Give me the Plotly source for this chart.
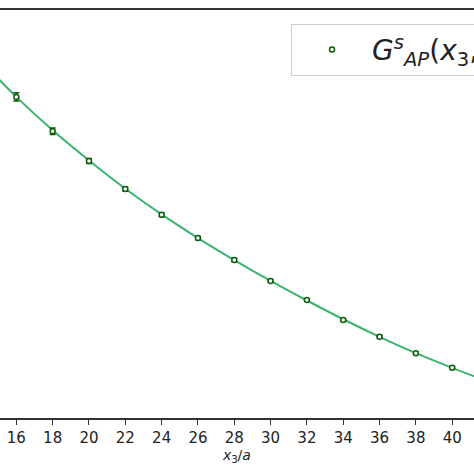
import plotly.graph_objects as go

# data (arbitrary units, y axis not visible in crop)
x_data = [16, 18, 20, 22, 24, 26, 28, 30, 32, 34, 36, 38, 40]
y_data = [0.787, 0.703, 0.630, 0.561, 0.498, 0.441, 0.387, 0.336, 0.289, 0.240, 0.199, 0.159, 0.123]
y_err = [0.010, 0.008, 0.006, 0.005, 0.005, 0.004, 0.004, 0.003, 0.003, 0.003, 0.003, 0.003, 0.003]

x_fit = [14, 16, 18, 20, 22, 24, 26, 28, 30, 32, 34, 36, 38, 40, 42]
y_fit = [0.878, 0.787, 0.705, 0.631, 0.562, 0.499, 0.441, 0.387, 0.336, 0.288, 0.242, 0.199, 0.159, 0.123, 0.089]

x_ticks = [16, 18, 20, 22, 24, 26, 28, 30, 32, 34, 36, 38, 40]

fig = go.Figure()
fig.add_trace(go.Scatter(
    x=x_fit, y=y_fit, mode="lines", line=dict(color="#3cb371", width=2, shape="spline"),
    showlegend=False, hoverinfo="skip"))
fig.add_trace(go.Scatter(
    x=x_data, y=y_data, mode="markers",
    marker=dict(symbol="circle", size=5, color="white", line=dict(width=1.5, color="#0b5d0b")),
    error_y=dict(type="data", array=y_err, color="#0b5d0b", thickness=1.5, width=3),
    name="<i>G</i><sup><i>s</i></sup><sub><i>AP</i></sub>(<i>x</i><sub>3</sub>, <i>t</i>/<i>a</i>)",
))

fig.update_layout(
    width=474, height=474,
    margin=dict(l=0, r=0, t=10, b=56, autoexpand=False),
    paper_bgcolor="white", plot_bgcolor="white",
    font=dict(family="DejaVu Sans", color="#222"),
    legend=dict(x=0.614, y=0.966, xanchor="left", yanchor="top",
                bordercolor="#cccccc", borderwidth=1, bgcolor="white",
                itemwidth=70,
                font=dict(size=28, family="DejaVu Sans")),
    xaxis=dict(range=[15.1, 41.2], tickvals=x_ticks, ticks="outside", ticklen=5,
               tickwidth=1.2, tickcolor="#333", showline=True, linecolor="#333", linewidth=1.5,
               mirror=True, showgrid=False, zeroline=False, tickfont=dict(size=15),
               automargin=False,
               title=dict(text="<i>x</i><sub>3</sub>/<i>a</i>", font=dict(size=14), standoff=3)),
    yaxis=dict(range=[0, 1], showgrid=False, zeroline=False, showticklabels=False, showline=False,
               automargin=False),
)

fig.write_html("out.html", config={"displayModeBar": False},
               post_script="document.body.style.margin='0';")
